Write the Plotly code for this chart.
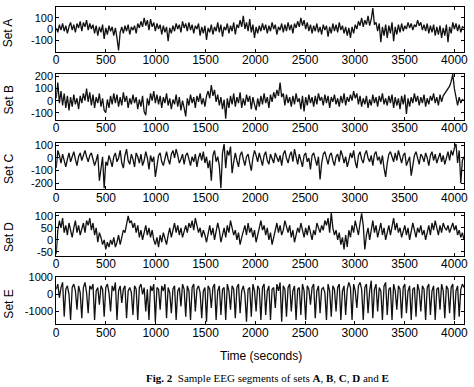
import numpy as np
import plotly.graph_objects as go
from plotly.subplots import make_subplots

# ---- data (one every 16 samples) ----
set_names = ["Set A", "Set B", "Set C", "Set D", "Set E"]
x_ticks = [0, 500, 1000, 1500, 2000, 2500, 3000, 3500, 4000]
n_samples = 4097

set_a = [
    10, -30, 40, -10, 50, -20, 30, -40, 20, 60, -10, 40, -30, 50, 10, 70,
    -20, 60, 20, 80, -10, 50, 0, 40, -40, 30, -60, 20, -30, 40, -90, 10,
    -50, 30, -20, 20, -60, 10, -80, -195, -30, 20, -40, 30, -20, 40, -50, 20,
    -10, 30, -40, 50, 10, 70, 20, 100, 30, 80, -10, 90, 20, 60, -20, 50,
    0, 40, -50, 30, -30, 20, -110, 10, -40, 30, -20, 50, 0, 40, -30, 70,
    10, 50, -20, 60, -10, 40, -40, 30, 0, 50, -60, 20, -40, 30, -100, 10,
    -30, 40, -50, 20, -20, 60, -30, 40, -70, 20, -10, 50, -40, 30, -20, 60,
    -50, 40, 10, 80, 20, 120, 0, 60, -20, 90, -30, 40, -80, 20, -40, 30,
    -20, 50, -10, 40, -40, 30, -20, 60, 0, 40, -50, 20, -10, 50, -30, 40,
    -20, 60, -10, 40, -40, 50, 10, 70, 20, 100, 30, 80, 0, 60, -20, 40,
    -40, 30, -20, 50, -30, 20, -50, 40, -10, 30, -70, 20, -40, 50, -20, 40,
    -30, 60, -10, 30, -40, 20, -60, 10, -80, 20, -40, 40, 0, 70, 30, 100,
    20, 80, 40, 120, 30, 90, 190, 40, 60, -20, 50, -120, 20, -60, 40, -80,
    30, -40, 60, -110, 20, -50, 40, -30, 50, -20, 30, 0, 60, 10, 50, -10,
    40, 20, 80, 30, 60, -10, 40, -20, 50, -40, 30, -30, 40, -60, 20, -50,
    30, -80, 10, -60, 40, -120, 20, -40, 60, 0, 50, -20, 40, -30, 20, 10,
]
set_b = [
    20, 150, -20, 80, -40, 60, -60, 40, -80, 30, -50, 50, -30, 20, -70, 40,
    -20, 60, 0, 100, -10, 70, -40, 50, -60, 30, -20, 60, -50, 20, -80, -100,
    10, -60, 40, -30, 60, -20, 50, -50, 30, -40, 70, -10, 40, -60, 20, -30,
    50, -20, 30, -70, 10, -50, 40, -90, -120, 20, -40, 60, 0, 80, -20, 50,
    -30, 40, -60, 30, -20, 60, -40, 20, -70, 10, -30, 50, -50, 30, -80, 0,
    -60, -130, 20, -40, 50, -20, 30, -60, 40, -10, 60, -30, 20, -50, 40, 80,
    20, 130, 40, 90, -10, 50, -40, 30, -70, 10, -150, 20, -60, 40, -30, 60,
    -50, 30, -20, 70, -60, 20, -40, 50, -10, 40, -70, 30, -30, -80, 20, -50,
    40, -30, 60, -20, 30, -60, 50, -10, 70, 20, 90, 40, 150, 30, 60, -40,
    50, -20, 30, -50, 40, -30, 60, -10, 20, -70, 40, -90, 30, -40, 50, -20,
    30, -50, 40, -30, 60, 0, 30, -40, 50, -20, 40, -60, 30, -10, 50, -30,
    20, -50, 40, -20, 60, -40, 30, -10, 50, 0, 80, 20, 60, -30, 40, -50,
    20, -30, 40, -60, 10, -40, 50, -20, 30, -50, 40, -10, 60, -30, 20, -40,
    40, -20, 50, -60, 30, -40, 20, -70, 40, -30, 50, -110, 20, -50, 30, -20,
    60, -10, 40, -40, 30, -20, 50, -50, 20, -30, 40, 0, 60, -20, 30, -40,
    50, -10, 40, 60, 80, 100, 120, 160, 220, 100, 20, -40, 30, -20, 10, 0,
]
set_c = [
    -80, 60, 20, -40, 30, -20, -70, -10, 40, -30, 20, 50, -10, -60, 10, 40,
    -20, 30, 60, 10, -30, 20, 40, -10, -60, -20, 30, -180, -60, 10, -240, -30,
    -60, 20, -20, -70, 10, 40, -30, 0, 60, -40, -80, 20, 70, -20, -50, 30,
    -10, -70, 40, 10, -40, 30, -60, -20, 50, 0, -90, 20, -30, 10, -150, -40,
    20, 40, -30, -60, 10, 50, -10, -50, 30, 60, 0, 70, 20, -40, -10, 30,
    -50, 20, 40, -20, -60, 10, -30, 30, -70, 0, 40, -20, 50, -40, 10, -80,
    -20, -180, 20, 60, -30, 10, -60, -240, 40, 110, -80, 60, 20, 90, -120, -30,
    40, -20, -70, 20, 50, -10, -60, 10, 30, -40, -100, 0, 60, 20, -30, 40,
    -10, -60, 20, 50, -20, -50, 30, 0, -40, 40, 10, -30, 20, -60, 30, 60,
    0, -40, 20, 50, -30, 70, 10, -50, 30, -20, -70, 20, 40, -30, 0, -90,
    20, 40, -20, -60, 10, -170, -40, 30, 50, -10, -50, 20, 40, -20, -60, 10,
    30, -30, 60, 20, -40, 10, -70, -20, 40, 0, 60, -30, -80, 20, 50, -10,
    -40, 30, 60, 0, -30, 20, -60, 30, 50, -20, 10, -50, 20, -80, -150, -40,
    30, 50, 10, -30, 40, -20, 60, 0, -40, 20, 40, -60, -20, 10, -140, -40,
    20, 50, -10, -50, 30, 10, -30, 40, 0, -60, 20, 50, -20, 30, -40, 10,
    40, -30, 20, -50, 10, 50, -20, 60, 20, 80, 110, -40, 60, -200, -20, 10,
]
set_d = [
    -60, 40, 80, 50, 90, 30, 60, 20, 70, 40, 10, 50, 80, 30, 60, 20,
    50, 70, 30, 80, 60, 90, 40, 70, 20, 50, -10, 30, 10, -20, 0, -40,
    -10, -30, 0, -20, 10, -30, -10, 20, -20, 10, 40, 30, 60, 100, 70, 80,
    50, 70, 30, 60, 10, 40, 0, 30, 60, 20, 50, 10, 40, 0, -20, 10,
    -30, 20, -10, 30, 0, -20, 20, 50, 10, 40, 70, 30, 60, 20, 50, 10,
    40, 60, 30, 70, 50, 80, 40, 90, 60, 30, 50, 10, 40, 20, -10, 30,
    60, 20, 50, 0, 30, 70, 40, -10, 20, 50, 10, 60, 30, 80, 50, 20,
    40, 0, 30, -20, 10, 40, 60, 20, 70, 30, 50, 10, 40, -10, 20, 50,
    80, 40, 60, 20, 50, 0, 30, -20, 10, 40, 70, 30, 60, 20, 40, 80,
    50, 30, 60, 10, 40, -10, 20, 50, 30, 70, 40, 10, 50, 20, 60, 30,
    0, 40, 20, 70, 50, 30, 60, 40, 80, 60, 90, 30, 113, 50, 20, 40,
    0, 30, -20, 10, -40, 20, -30, 40, 10, 60, 30, 80, 50, 20, 70, 110,
    60, -40, 20, 50, 0, 40, 80, 30, 60, 10, 40, 70, 20, 50, 0, 30,
    60, 20, 50, 90, 40, 70, 30, 50, 10, 40, 60, 20, 50, 0, 30, 70,
    40, 10, 50, 30, 60, 20, 40, 0, 30, 60, 20, 70, 40, 80, 50, 20,
    60, 30, 70, 50, 40, 60, 30, 50, 70, 40, 60, 20, 40, 10, 30, 0,
]
set_e = [
    300, 600, -200, 400, 700, -1300, 300, 500, 0, -1500, 400, 600, 200, -900, 500, 100,
    -1400, 400, 700, 100, -1100, 500, 300, 600, -1500, 200, 400, -600, 500, 300, -1300, 400,
    600, 100, -1000, 500, 200, 700, -1500, 200, 500, -500, 300, 500, -1400, 200, 400, 100,
    -1200, 500, 300, -1500, 400, 600, 0, 400, -1000, 300, -1500, 500, 200, 600, -1600, 400,
    300, -900, 500, 200, 600, -1400, 400, 100, -1100, 300, 500, -1500, 200, 400, -700, 600,
    300, -1300, 500, 200, -1500, 400, 600, -1000, 300, 500, 100, -1400, 200, 400, -1600, 500,
    300, -800, 400, 600, -1500, 200, 500, -1200, 300, 400, -1500, 600, 200, -900, 500, 300,
    -1400, 400, 600, -1100, 200, 500, 0, -1600, 300, 400, -1300, 600, 200, -1000, 500, 300,
    -1500, 400, 600, -1200, 200, 500, -1500, 300, 400, -800, 600, 200, 700, -1600, 500, 300,
    -1300, 400, 600, -1000, 200, 500, -1500, 300, 400, -1200, 600, 200, -1500, 500, 300, -600,
    400, 600, -1400, 200, 500, -1100, 300, 400, 100, -1500, 600, 200, -1300, 500, 300, -1000,
    400, 600, -1500, 200, 500, -1200, 300, 700, 400, -1500, 600, 200, -800, 500, 700, 300,
    -1500, 400, 600, -1100, 200, 800, -1400, 300, 600, -1000, 400, 200, -1500, 500, 700, -1200,
    300, 400, -1500, 600, 200, -900, 500, 300, -1400, 400, 600, -1100, 200, 500, -1500, 300,
    400, -1300, 600, 200, -1000, 500, 300, -1500, 400, 600, -1200, 200, 500, -1500, 300, 400,
    -900, 600, 200, -1400, 500, 300, -1100, 400, 600, -1500, 200, 500, -1300, 300, 600, 400,
]
series = [set_a, set_b, set_c, set_d, set_e]
y_ranges = [[-209, 200], [-157, 225], [-247, 118], [-66, 113], [-1750, 1000]]
y_ticks = [[-100, 0, 100], [-100, 0, 100, 200], [-200, -100, 0, 100], [-50, 0, 50, 100], [-1000, 0, 1000]]

# ---- layout in pixels ----
W, H = 474, 387
px_left, px_right = 54, 468
panels_px = [(1, 47), (69, 116), (140, 187), (211, 255), (277, 325)]

fig = make_subplots(rows=5, cols=1)
xfont = dict(family="Liberation Sans, Arial, sans-serif", size=12, color="black")
yfont = dict(family="Liberation Sans, Arial, sans-serif", size=11, color="black")

for k, vals in enumerate(series):
    t = np.arange(len(vals)) * (n_samples - 1) / (len(vals) - 1)
    fig.add_trace(go.Scatter(x=t, y=vals, mode="lines",
                             line=dict(color="#111111", width=1.3),
                             showlegend=False, hoverinfo="skip"),
                  row=k + 1, col=1)
    top, bot = panels_px[k]
    xa = "xaxis" if k == 0 else f"xaxis{k+1}"
    ya = "yaxis" if k == 0 else f"yaxis{k+1}"
    fig.layout[xa].update(domain=[px_left / W, px_right / W], range=[0, n_samples],
                          tickvals=x_ticks, ticktext=[str(v) for v in x_ticks],
                          ticks="inside", ticklen=3, tickcolor="black",
                          ticklabelstandoff=-3,
                          showline=True, linecolor="black", linewidth=1, mirror="allticks",
                          showgrid=False, zeroline=False, tickfont=xfont)
    fig.layout[ya].update(domain=[1 - bot / H, 1 - top / H], range=y_ranges[k],
                          tickvals=y_ticks[k], ticktext=[str(v) for v in y_ticks[k]],
                          ticks="inside", ticklen=3, tickcolor="black",
                          showline=True, linecolor="black", linewidth=1, mirror="allticks",
                          showgrid=False, zeroline=False, tickfont=yfont)
    fig.add_annotation(text=set_names[k], xref="paper", yref="paper",
                       x=6 / W, y=1 - ((top + bot) / 2 + 3) / H, textangle=-90,
                       showarrow=False, xanchor="center", yanchor="middle",
                       font=dict(family="Liberation Sans, Arial, sans-serif", size=12, color="black"))

fig.add_annotation(text="Time (seconds)", xref="paper", yref="paper",
                   x=262 / W, y=1 - 357 / H, showarrow=False,
                   xanchor="center", yanchor="middle",
                   font=dict(family="Liberation Sans, Arial, sans-serif", size=12, color="black"))
fig.add_annotation(text="<b>Fig. 2</b>  Sample EEG segments of sets <b>A</b>, <b>B</b>, <b>C</b>, <b>D</b> and <b>E</b>",
                   xref="paper", yref="paper", x=268 / W, y=1 - 380 / H, showarrow=False,
                   xanchor="center", yanchor="middle",
                   font=dict(family="Liberation Serif, Times New Roman, serif", size=11, color="black"))

fig.update_layout(width=W, height=H, margin=dict(l=0, r=0, t=0, b=0),
                  paper_bgcolor="white", plot_bgcolor="white")
fig.write_html("out.html")
